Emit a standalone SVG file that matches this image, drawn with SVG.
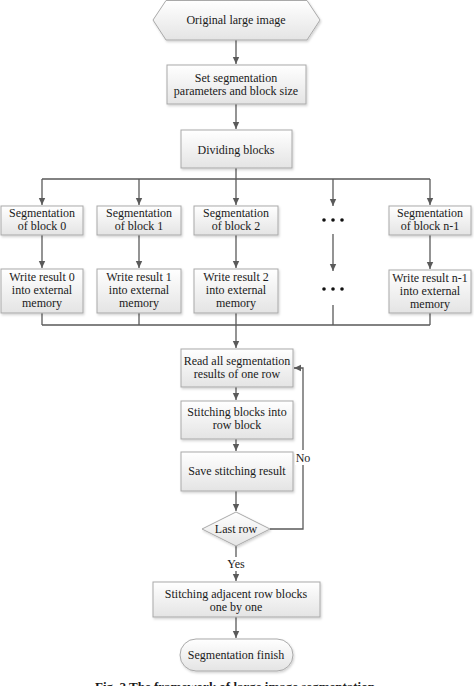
<svg xmlns="http://www.w3.org/2000/svg" width="474" height="686" viewBox="0 0 474 686">
<style>
.box{fill:url(#g);stroke:#a9a9a9;stroke-width:1;filter:url(#sh)}
.t{font-family:"Liberation Serif","Times New Roman",serif;font-size:12px;fill:#1a1a1a;text-anchor:middle}
.c{stroke:#5a5a5a;stroke-width:1.3;fill:none}
.a{marker-end:url(#ah)}
.dot{fill:#111}
</style>
<defs>
<linearGradient id="g" x1="0" y1="0" x2="0" y2="1">
<stop offset="0" stop-color="#ffffff"/>
<stop offset="1" stop-color="#e4e4e4"/>
</linearGradient>
<filter id="sh" x="-10%" y="-10%" width="120%" height="130%">
<feDropShadow dx="1" dy="1.5" stdDeviation="1" flood-color="#000" flood-opacity="0.18"/>
</filter>
<marker id="ah" markerWidth="8" markerHeight="8" refX="7" refY="4" orient="auto" markerUnits="userSpaceOnUse">
<path d="M0,0.8 L7,4 L0,7.2 Z" fill="#5a5a5a"/>
</marker>
</defs>
<rect width="474" height="686" fill="#fff"/>
<g id="connectors">
<path class="c a" d="M236,40 V64"/>
<path class="c a" d="M236,104 V129"/>
<path class="c" d="M236,168 V179 M42,179 H430"/>
<path class="c a" d="M42,179 V205"/>
<path class="c a" d="M139,179 V205"/>
<path class="c a" d="M236,179 V205"/>
<path class="c a" d="M333,179 V206"/>
<path class="c a" d="M430,179 V205"/>
<path class="c a" d="M42,235 V268"/>
<path class="c a" d="M139,235 V268"/>
<path class="c a" d="M236,235 V268"/>
<path class="c a" d="M333,234 V271"/>
<path class="c a" d="M430,235 V269"/>
<path class="c" d="M42,313 V325 M139,313 V325 M430,313 V325 M333,305 V325 M42,325 H430 M236,313 V325"/>
<path class="c a" d="M236,325 V348"/>
<path class="c a" d="M236,387 V400"/>
<path class="c a" d="M236,439 V451"/>
<path class="c a" d="M236,491 V511"/>
<path class="c a" d="M270,529 H303 V368 H294"/>
<path class="c a" d="M236,546 V581"/>
<path class="c a" d="M236,617 V638"/>
</g>
<g id="n_original">
<polygon class="box" points="153,20 166,0.5 307,0.5 320,20 307,40 166,40"/>
<text class="t" x="236" y="24">Original large image</text>
</g>
<g id="n_setparams">
<rect class="box" x="167" y="65" width="139" height="39"/>
<text class="t" x="236" y="82">Set segmentation</text>
<text class="t" x="236" y="95">parameters and block size</text>
</g>
<g id="n_dividing">
<rect class="box" x="181" y="130" width="111" height="38"/>
<text class="t" x="236" y="154">Dividing blocks</text>
</g>
<g id="n_seg0">
<rect class="box" x="1" y="206" width="82" height="29"/>
<text class="t" x="42" y="217">Segmentation</text>
<text class="t" x="42" y="230">of block 0</text>
</g>
<g id="n_seg1">
<rect class="box" x="97" y="206" width="84" height="29"/>
<text class="t" x="139" y="217">Segmentation</text>
<text class="t" x="139" y="230">of block 1</text>
</g>
<g id="n_seg2">
<rect class="box" x="194" y="206" width="84" height="29"/>
<text class="t" x="236" y="217">Segmentation</text>
<text class="t" x="236" y="230">of block 2</text>
</g>
<g id="n_dots1">
<circle class="dot" cx="324" cy="220" r="1.8"/>
<circle class="dot" cx="333" cy="220" r="1.8"/>
<circle class="dot" cx="342" cy="220" r="1.8"/>
</g>
<g id="n_segn">
<rect class="box" x="389" y="206" width="82" height="29"/>
<text class="t" x="430" y="217">Segmentation</text>
<text class="t" x="430" y="230">of block n-1</text>
</g>
<g id="n_write0">
<rect class="box" x="1" y="269" width="82" height="44"/>
<text class="t" x="42" y="281">Write result 0</text>
<text class="t" x="42" y="294">into external</text>
<text class="t" x="42" y="307">memory</text>
</g>
<g id="n_write1">
<rect class="box" x="97" y="269" width="84" height="44"/>
<text class="t" x="139" y="281">Write result 1</text>
<text class="t" x="139" y="294">into external</text>
<text class="t" x="139" y="307">memory</text>
</g>
<g id="n_write2">
<rect class="box" x="194" y="269" width="84" height="44"/>
<text class="t" x="236" y="281">Write result 2</text>
<text class="t" x="236" y="294">into external</text>
<text class="t" x="236" y="307">memory</text>
</g>
<g id="n_dots2">
<circle class="dot" cx="324" cy="289" r="1.8"/>
<circle class="dot" cx="333" cy="289" r="1.8"/>
<circle class="dot" cx="342" cy="289" r="1.8"/>
</g>
<g id="n_writen">
<rect class="box" x="389" y="270" width="82" height="43"/>
<text class="t" x="430" y="282">Write result n-1</text>
<text class="t" x="430" y="295">into external</text>
<text class="t" x="430" y="308">memory</text>
</g>
<g id="n_read">
<rect class="box" x="181" y="349" width="112" height="38"/>
<text class="t" x="237" y="365">Read all segmentation</text>
<text class="t" x="237" y="378">results of one row</text>
</g>
<g id="n_stitchrow">
<rect class="box" x="181" y="401" width="112" height="38"/>
<text class="t" x="237" y="416">Stitching blocks into</text>
<text class="t" x="237" y="429">row block</text>
</g>
<g id="n_save">
<rect class="box" x="181" y="452" width="112" height="39"/>
<text class="t" x="237" y="475">Save stitching result</text>
</g>
<g id="n_lastrow">
<polygon class="box" points="236,512 270,529 236,546 202,529"/>
<text class="t" x="236" y="533">Last row</text>
</g>
<g id="lbl_no">
<rect x="295" y="450" width="16" height="15" fill="#fff"/>
<text class="t" x="303" y="462">No</text>
</g>
<g id="lbl_yes">
<rect x="225" y="557" width="22" height="14" fill="#fff"/>
<text class="t" x="236" y="568">Yes</text>
</g>
<g id="n_stitchadj">
<rect class="box" x="153" y="582" width="167" height="35"/>
<text class="t" x="236" y="598">Stitching adjacent row blocks</text>
<text class="t" x="236" y="611">one by one</text>
</g>
<g id="n_finish">
<rect class="box" x="180" y="639" width="113" height="32" rx="16" ry="16"/>
<text class="t" x="236" y="659">Segmentation finish</text>
</g>
<text class="t" x="235" y="691" style="font-size:13px;font-weight:bold">Fig. 2 The framework of large image segmentation</text>
</svg>
